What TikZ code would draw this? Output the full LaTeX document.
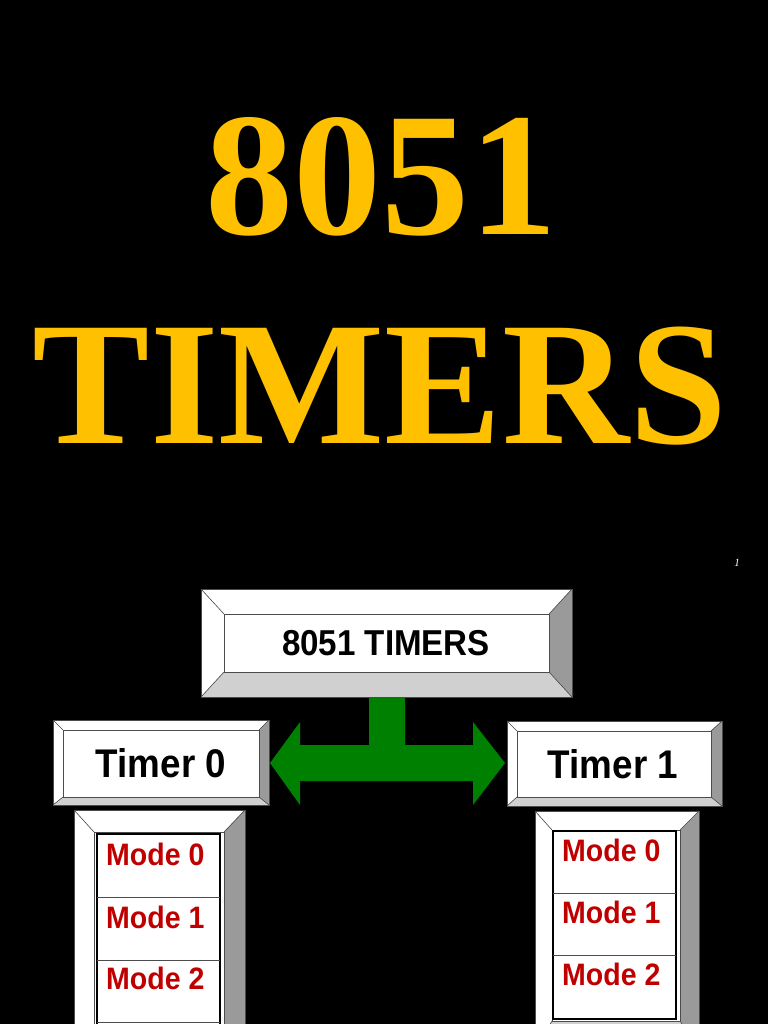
\documentclass[tikz,border=0pt]{standalone}
\usepackage{fontspec}
\setmainfont{Liberation Serif}
\newfontfamily\arialb{Liberation Sans}[FakeStretch=0.92]
\definecolor{gold}{HTML}{FFC000}
\definecolor{bevdark}{HTML}{9A9A9A}
\definecolor{bevlight}{HTML}{D0D0D0}
\definecolor{modered}{HTML}{C00000}
\definecolor{arrgreen}{HTML}{008000}
\newcommand{\bevelbox}[8]{% x1 y1 x2 y2 ix1 iy1 ix2 iy2
  \fill[white] (#1,#2) -- (#3,#2) -- (#7,#6) -- (#5,#6) -- cycle;
  \fill[white] (#1,#2) -- (#5,#6) -- (#5,#8) -- (#1,#4) -- cycle;
  \fill[bevdark] (#3,#2) -- (#3,#4) -- (#7,#8) -- (#7,#6) -- cycle;
  \fill[bevlight] (#1,#4) -- (#3,#4) -- (#7,#8) -- (#5,#8) -- cycle;
  \fill[white] (#5,#6) rectangle (#7,#8);
  \draw[black!70,line width=0.8] (#1,#2) rectangle (#3,#4);
  \draw[black!70,line width=0.8] (#5,#6) rectangle (#7,#8);
  \draw[black!70,line width=0.6] (#1,#2) -- (#5,#6) (#3,#2) -- (#7,#6) (#1,#4) -- (#5,#8) (#3,#4) -- (#7,#8);
}
\begin{document}
\begin{tikzpicture}[x=1pt,y=-1pt,
  boxtext/.style={text=black, inner sep=0},
  modetext/.style={font=\arialb\bfseries\fontsize{31}{31}\selectfont, text=modered, anchor=west, inner sep=0}]
\fill[black] (0,0) rectangle (768,1024);
\useasboundingbox (0,0) rectangle (768,1024);
\node[text=gold, font=\bfseries\fontsize{176}{176}\selectfont] (t1) at (381,177) {8051};
\node[text=gold, font=\bfseries\fontsize{176}{176}\selectfont] (t2) at (380,386) {TIMERS};
\node[text=white, font=\itshape\fontsize{11}{11}\selectfont] (pg) at (737,563) {1};
% top box
\bevelbox{201}{589}{572}{697}{224}{614}{549}{672}
\node[boxtext, font=\arialb\bfseries\fontsize{36}{36}\selectfont] (top) at (386,643) {8051 TIMERS};
% timer boxes
\bevelbox{53}{720}{269}{805}{63}{730}{259}{797}
\node[boxtext, font=\arialb\bfseries\fontsize{40}{40}\selectfont] (tm0) at (161,763) {Timer 0};
\bevelbox{507}{721}{722}{806}{517}{731}{711}{797}
\node[boxtext, font=\arialb\bfseries\fontsize{40}{40}\selectfont] (tm1) at (613,764) {Timer 1};
% mode columns
\bevelbox{74}{810}{245}{1060}{94}{832}{224}{1040}
\draw[black, line width=1.2, fill=white] (97,834) rectangle (220,1040);
\draw[black!70] (97,897) -- (220,897) (97,960) -- (220,960) (97,1022) -- (220,1022);
\node[modetext] (l0) at (106,854) {Mode 0};
\node[modetext] (l1) at (106,917) {Mode 1};
\node[modetext] (l2) at (106,978) {Mode 2};
\bevelbox{535}{811}{699}{1050}{552}{830}{680}{1021}
\draw[black, line width=2, fill=white] (553,831) rectangle (676,1019);
\draw[black!70] (553,893) -- (676,893) (553,955) -- (676,955);
\node[modetext] (r0) at (562,850) {Mode 0};
\node[modetext] (r1) at (562,912) {Mode 1};
\node[modetext] (r2) at (562,974) {Mode 2};
% green arrow
\fill[arrgreen] (369,697) -- (405,697) -- (405,745) -- (473,745) -- (473,722) -- (505,763)
  -- (473,805) -- (473,781) -- (300,781) -- (300,805) -- (270,763) -- (300,722) -- (300,745)
  -- (369,745) -- cycle;
\end{tikzpicture}
\end{document}
